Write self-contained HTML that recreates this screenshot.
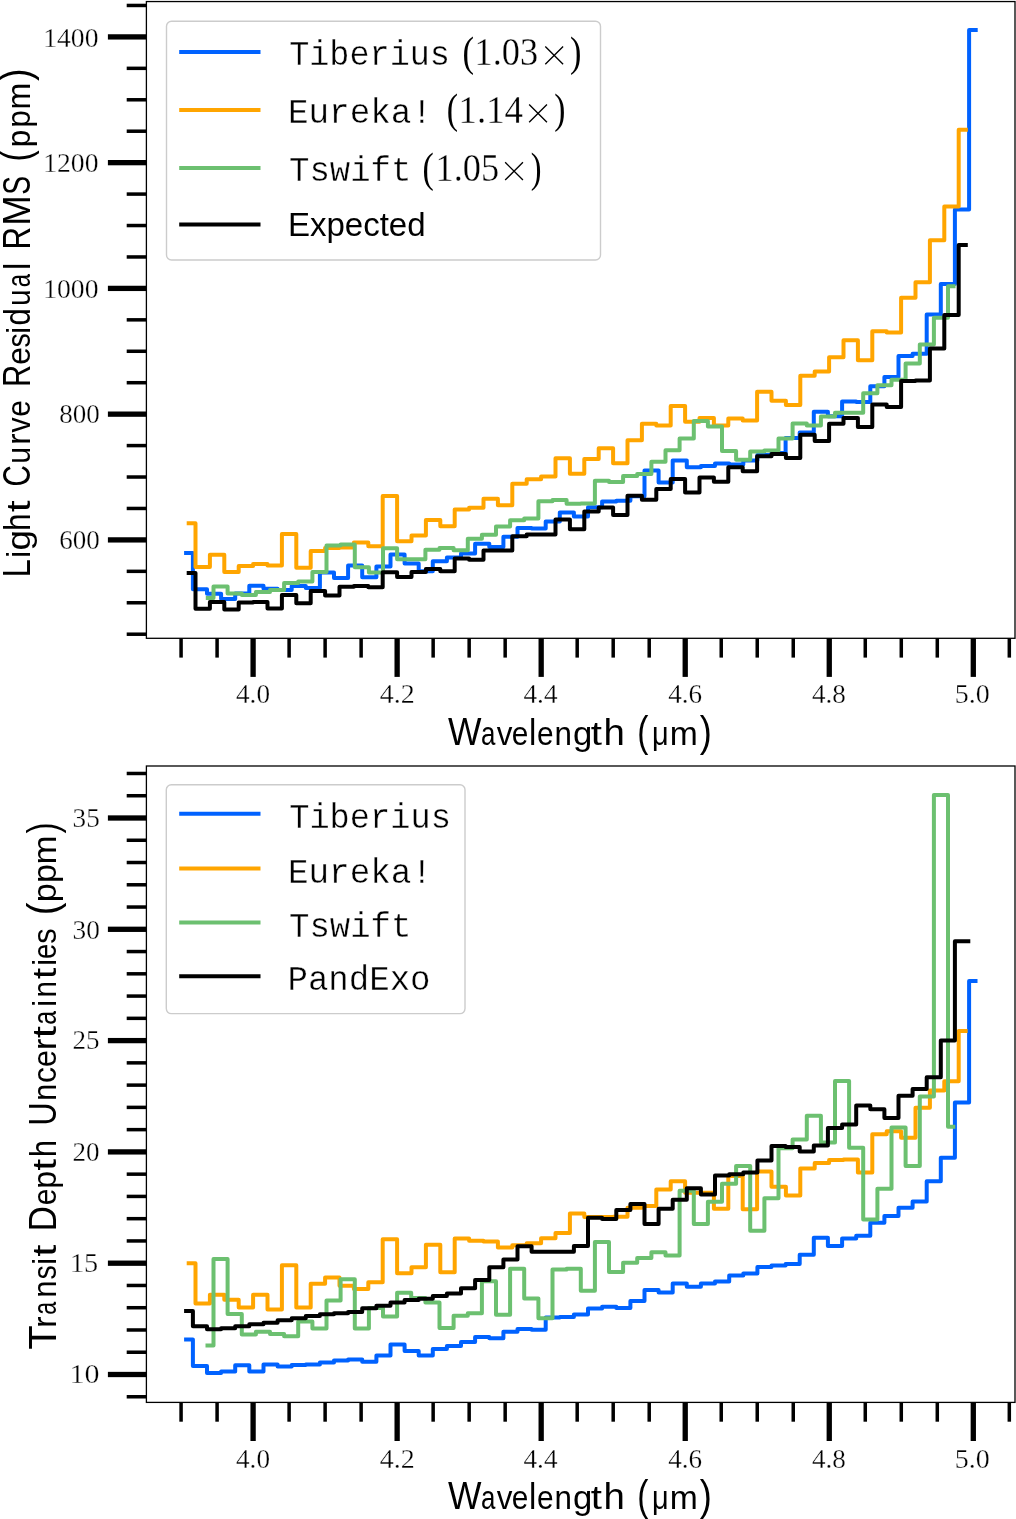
<!DOCTYPE html><html><head><meta charset="utf-8"><style>html,body{margin:0;padding:0;background:#fff;overflow:hidden;}text{-webkit-font-smoothing:antialiased;}svg{will-change:transform;}svg{display:block;}.tl{font-family:"Liberation Serif",serif;font-size:28px;fill:#000;stroke:#fff;stroke-width:0.3px;}.al{font-family:"Liberation Sans",sans-serif;font-size:35.5px;fill:#000;}.lm{font-family:"Liberation Mono",monospace;font-size:34.5px;fill:#000;stroke:#fff;stroke-width:0.35px;}.ls{font-family:"Liberation Serif",serif;font-size:39px;fill:#000;stroke:#fff;stroke-width:0.3px;}.lsans{font-family:"Liberation Sans",sans-serif;font-size:34px;fill:#000;}.lab text{font-family:"Liberation Sans",sans-serif;font-size:33px;fill:#000;}.ser{font-family:"Liberation Serif",serif;font-size:39px;fill:#000;}</style></head><body>
<svg width="1016" height="1519" viewBox="0 0 1016 1519">
<rect width="1016" height="1519" fill="#fff"/>
<g fill="#000">
<rect x="179.33" y="638.30" width="3.5" height="19.3"/>
<rect x="215.34" y="638.30" width="3.5" height="19.3"/>
<rect x="287.36" y="638.30" width="3.5" height="19.3"/>
<rect x="323.37" y="638.30" width="3.5" height="19.3"/>
<rect x="359.38" y="638.30" width="3.5" height="19.3"/>
<rect x="431.40" y="638.30" width="3.5" height="19.3"/>
<rect x="467.41" y="638.30" width="3.5" height="19.3"/>
<rect x="503.42" y="638.30" width="3.5" height="19.3"/>
<rect x="575.44" y="638.30" width="3.5" height="19.3"/>
<rect x="611.45" y="638.30" width="3.5" height="19.3"/>
<rect x="647.46" y="638.30" width="3.5" height="19.3"/>
<rect x="719.48" y="638.30" width="3.5" height="19.3"/>
<rect x="755.49" y="638.30" width="3.5" height="19.3"/>
<rect x="791.50" y="638.30" width="3.5" height="19.3"/>
<rect x="863.52" y="638.30" width="3.5" height="19.3"/>
<rect x="899.53" y="638.30" width="3.5" height="19.3"/>
<rect x="935.54" y="638.30" width="3.5" height="19.3"/>
<rect x="1007.56" y="638.30" width="3.5" height="19.3"/>
<rect x="250.45" y="638.30" width="5.3" height="38.6"/>
<text x="236.00" y="703.00" class="tl" textLength="33.98" lengthAdjust="spacingAndGlyphs">4.0</text>
<rect x="394.49" y="638.30" width="5.3" height="38.6"/>
<text x="379.76" y="703.00" class="tl" textLength="34.97" lengthAdjust="spacingAndGlyphs">4.2</text>
<rect x="538.53" y="638.30" width="5.3" height="38.6"/>
<text x="523.52" y="703.00" class="tl" textLength="33.96" lengthAdjust="spacingAndGlyphs">4.4</text>
<rect x="682.57" y="638.30" width="5.3" height="38.6"/>
<text x="668.28" y="703.00" class="tl" textLength="33.86" lengthAdjust="spacingAndGlyphs">4.6</text>
<rect x="826.61" y="638.30" width="5.3" height="38.6"/>
<text x="812.04" y="703.00" class="tl" textLength="33.88" lengthAdjust="spacingAndGlyphs">4.8</text>
<rect x="970.65" y="638.30" width="5.3" height="38.6"/>
<text x="954.80" y="703.00" class="tl" textLength="34.96" lengthAdjust="spacingAndGlyphs">5.0</text>
<rect x="126.70" y="632.46" width="19.7" height="3.5"/>
<rect x="126.70" y="601.02" width="19.7" height="3.5"/>
<rect x="126.70" y="569.59" width="19.7" height="3.5"/>
<rect x="126.70" y="506.71" width="19.7" height="3.5"/>
<rect x="126.70" y="475.27" width="19.7" height="3.5"/>
<rect x="126.70" y="443.84" width="19.7" height="3.5"/>
<rect x="126.70" y="380.96" width="19.7" height="3.5"/>
<rect x="126.70" y="349.52" width="19.7" height="3.5"/>
<rect x="126.70" y="318.09" width="19.7" height="3.5"/>
<rect x="126.70" y="255.21" width="19.7" height="3.5"/>
<rect x="126.70" y="223.78" width="19.7" height="3.5"/>
<rect x="126.70" y="192.34" width="19.7" height="3.5"/>
<rect x="126.70" y="129.46" width="19.7" height="3.5"/>
<rect x="126.70" y="98.03" width="19.7" height="3.5"/>
<rect x="126.70" y="66.59" width="19.7" height="3.5"/>
<rect x="126.70" y="3.71" width="19.7" height="3.5"/>
<rect x="107.90" y="34.25" width="38.5" height="5.3"/>
<text x="43.20" y="46.57" class="tl" textLength="55.25" lengthAdjust="spacingAndGlyphs">1400</text>
<rect x="107.90" y="160.00" width="38.5" height="5.3"/>
<text x="43.20" y="172.27" class="tl" textLength="55.25" lengthAdjust="spacingAndGlyphs">1200</text>
<rect x="107.90" y="285.75" width="38.5" height="5.3"/>
<text x="43.20" y="297.62" class="tl" textLength="55.25" lengthAdjust="spacingAndGlyphs">1000</text>
<rect x="107.90" y="411.50" width="38.5" height="5.3"/>
<text x="59.20" y="423.12" class="tl" textLength="40.53" lengthAdjust="spacingAndGlyphs">800</text>
<rect x="107.90" y="537.25" width="38.5" height="5.3"/>
<text x="59.20" y="548.97" class="tl" textLength="40.53" lengthAdjust="spacingAndGlyphs">600</text>
<rect x="146.40" y="1.55" width="868.60" height="636.75" fill="none" stroke="#000" stroke-width="1.3"/>
</g>
<g fill="none" stroke-width="4.0" stroke-linejoin="round" stroke-linecap="square">
<path d="M186.1 553.0H192.9V589.2H207.0V593.7H221.1V598.9H235.2V593.5H249.3V585.8H263.5V588.7H277.6V590.0H291.7V586.1H305.8V587.9H319.9V572.6H334.0V577.9H348.1V565.5H362.2V577.3H376.4V566.6H390.5V554.4H404.6V563.5H418.7V571.3H432.8V561.3H446.9V557.4H461.0V553.6H475.1V543.8H489.3V546.9H503.4V536.8H517.5V528.0H531.6V528.6H545.7V521.5H559.8V512.6H573.9V516.5H588.0V507.3H602.1V501.5H616.3V500.8H630.4V496.3H644.5V470.5H658.6V482.5H672.7V460.6H686.8V467.2H700.9V466.0H715.0V463.4H729.2V464.5H743.3V460.4H757.4V455.0H771.5V453.0H785.6V438.0H799.7V432.5H813.8V411.8H827.9V416.3H842.1V401.6H856.2V402.0H870.3V386.2H884.4V376.9H898.5V356.0H912.6V353.7H926.7V314.5H940.8V284.0H954.9V209.4H969.1V29.9H975.7" stroke="#0062ff"/>
<path d="M188.7 523.3H195.5V566.9H209.9V554.8H224.3V572.0H238.7V565.9H253.1V564.1H267.5V565.6H281.9V533.9H296.3V567.8H310.7V550.9H325.1V548.0H339.5V547.4H353.9V542.5H368.3V546.2H382.7V495.9H397.1V541.2H411.5V535.5H425.9V519.9H440.3V526.3H454.7V509.5H469.1V507.8H483.5V498.7H497.9V505.2H512.3V483.7H526.7V479.3H541.1V476.6H555.5V458.3H569.9V473.7H584.3V459.1H598.7V448.3H613.1V463.2H627.5V440.2H641.9V423.7H656.3V425.4H670.7V405.9H685.1V421.7H699.5V417.9H713.9V425.5H728.3V418.5H742.7V420.5H757.1V391.7H771.5V400.7H785.9V404.9H800.3V375.8H814.7V371.6H829.1V357.3H843.5V340.2H857.9V360.2H872.3V331.3H886.7V332.4H901.1V297.8H915.5V282.3H929.9V240.2H944.3V206.4H958.7V129.8H965.8" stroke="#ffa500"/>
<path d="M207.8 597.9H213.5V586.6H227.6V593.5H241.8V595.1H255.9V591.9H270.0V590.0H284.1V583.0H298.2V581.5H312.4V572.0H326.5V545.4H340.6V544.6H354.8V567.2H368.9V572.6H383.0V548.2H397.1V559.3H411.2V559.3H425.4V549.7H439.5V547.9H453.6V550.2H467.8V538.8H481.9V534.7H496.0V526.4H510.1V520.3H524.2V518.5H538.4V501.2H552.5V500.0H566.6V503.8H580.8V503.6H594.9V480.8H609.0V481.9H623.1V475.9H637.2V473.9H651.4V461.8H665.5V450.2H679.6V438.4H693.8V420.9H707.9V426.5H722.0V450.9H736.1V459.8H750.2V451.5H764.4V450.4H778.5V438.5H792.6V423.6H806.8V425.6H820.9V416.5H835.0V412.8H849.1V412.8H863.2V393.3H877.4V385.3H891.5V379.8H905.6V363.5H919.8V344.5H933.9V317.8H948.0V286.3H953.5" stroke="#6cc070"/>
<path d="M188.7 573.0H195.5V608.7H209.9V602.0H224.3V609.4H238.7V602.5H253.1V602.0H267.5V608.4H281.9V595.0H296.3V603.3H310.7V590.9H325.1V595.6H339.5V586.7H353.9V585.9H368.3V587.3H382.7V572.3H397.1V577.0H411.5V572.1H425.9V568.9H440.3V571.3H454.7V558.5H469.1V559.8H483.5V550.4H497.9V550.4H512.3V536.3H526.7V534.5H541.1V534.5H555.5V519.4H569.9V529.2H584.3V511.4H598.7V507.5H613.1V515.1H627.5V495.8H641.9V499.8H656.3V488.9H670.7V478.9H685.1V492.6H699.5V477.6H713.9V481.7H728.3V467.3H742.7V471.3H757.1V456.3H771.5V453.9H785.9V458.0H800.3V434.8H814.7V440.9H829.1V423.8H843.5V417.9H857.9V427.0H872.3V404.5H886.7V406.9H901.1V381.0H915.5V380.5H929.9V348.6H944.3V315.0H958.7V245.0H965.8" stroke="#000000"/>
</g>
<rect x="166.5" y="21.3" width="434" height="238.7" rx="5" fill="#fff" fill-opacity="0.8" stroke="#cccccc" stroke-width="1.4"/>
<line x1="179.2" y1="52.0" x2="260.5" y2="52.0" stroke="#0062ff" stroke-width="4.0"/>
<line x1="179.2" y1="110.0" x2="260.5" y2="110.0" stroke="#ffa500" stroke-width="4.0"/>
<line x1="179.2" y1="168.0" x2="260.5" y2="168.0" stroke="#6cc070" stroke-width="4.0"/>
<line x1="179.2" y1="224.4" x2="260.5" y2="224.4" stroke="#000000" stroke-width="4.0"/>
<text x="289.20" y="64.60" class="lm" textLength="160.74" lengthAdjust="spacingAndGlyphs">Tiberius</text>
<text x="287.90" y="122.80" class="lm" textLength="144.19" lengthAdjust="spacingAndGlyphs">Eureka!</text>
<text x="289.00" y="181.10" class="lm" textLength="122.41" lengthAdjust="spacingAndGlyphs">Tswift</text>
<text x="474.50" y="65.20" class="ls" textLength="63.55" lengthAdjust="spacingAndGlyphs">1.03</text>
<text class="ser" transform="translate(468.45,65.64) scale(0.889,1.103)" x="-6.72" y="0">(</text>
<text class="ser" transform="translate(575.60,65.64) scale(0.879,1.103)" x="-6.27" y="0">)</text>
<path d="M545.30 46.40L563.10 64.20M545.30 64.20L563.10 46.40" stroke="#000" stroke-width="1.35" fill="none"/>
<text x="458.50" y="123.00" class="ls" textLength="64.55" lengthAdjust="spacingAndGlyphs">1.14</text>
<text class="ser" transform="translate(452.65,123.44) scale(0.869,1.103)" x="-6.72" y="0">(</text>
<text class="ser" transform="translate(559.70,123.44) scale(0.859,1.103)" x="-6.27" y="0">)</text>
<path d="M529.15 104.45L546.95 122.25M529.15 122.25L546.95 104.45" stroke="#000" stroke-width="1.35" fill="none"/>
<text x="435.50" y="181.30" class="ls" textLength="63.55" lengthAdjust="spacingAndGlyphs">1.05</text>
<text class="ser" transform="translate(428.25,181.74) scale(0.869,1.103)" x="-6.72" y="0">(</text>
<text class="ser" transform="translate(535.85,181.74) scale(0.829,1.103)" x="-6.27" y="0">)</text>
<path d="M505.15 162.25L522.95 180.05M505.15 180.05L522.95 162.25" stroke="#000" stroke-width="1.35" fill="none"/>
<text x="287.90" y="236.20" class="lsans" textLength="137.70" lengthAdjust="spacingAndGlyphs">Expected</text>
<g class="lab"><text transform="translate(464.70,744.80) scale(1.075,1.172)" x="-15.59" y="0">W</text><text transform="translate(488.75,744.80) scale(0.785,0.987)" x="-9.88" y="0">a</text><text transform="translate(504.55,744.80) scale(0.952,0.987)" x="-8.25" y="0">v</text><text transform="translate(520.10,744.80) scale(0.904,0.987)" x="-9.14" y="0">e</text><text transform="translate(532.65,744.80) scale(1.000,1.112)" x="-3.67" y="0">l</text><text transform="translate(545.20,744.80) scale(0.904,0.987)" x="-9.14" y="0">e</text><text transform="translate(563.25,744.80) scale(0.949,0.987)" x="-9.20" y="0">n</text><text transform="translate(582.20,744.80) scale(1.051,0.987)" x="-8.81" y="0">g</text><text transform="translate(596.55,744.80) scale(1.222,1.000)" x="-4.71" y="0">t</text><text transform="translate(614.30,744.80) scale(1.164,1.112)" x="-9.25" y="0">h</text><text transform="translate(643.85,745.63) scale(1.017,1.269)" x="-6.42" y="0">(</text><text transform="translate(660.20,744.80) scale(0.877,0.987)" x="-9.41" y="0">μ</text><text transform="translate(683.80,744.80) scale(1.021,0.987)" x="-13.75" y="0">m</text><text transform="translate(704.70,745.63) scale(1.097,1.269)" x="-4.57" y="0">)</text></g>
<g class="lab"><text transform="translate(29.65,567.50) rotate(-90) scale(1.003,1.172)" x="-9.98" y="0">L</text><text transform="translate(29.65,554.45) rotate(-90) scale(1.000,1.000)" x="-3.66" y="0">i</text><text transform="translate(29.65,540.70) rotate(-90) scale(1.119,0.987)" x="-8.81" y="0">g</text><text transform="translate(29.65,522.15) rotate(-90) scale(0.955,1.112)" x="-9.25" y="0">h</text><text transform="translate(29.65,506.15) rotate(-90) scale(1.293,1.000)" x="-4.71" y="0">t</text><text transform="translate(29.65,475.65) rotate(-90) scale(0.895,1.154)" x="-12.13" y="0">C</text><text transform="translate(29.65,455.50) rotate(-90) scale(0.913,0.987)" x="-9.15" y="0">u</text><text transform="translate(29.65,438.45) rotate(-90) scale(1.055,0.987)" x="-6.32" y="0">r</text><text transform="translate(29.65,425.00) rotate(-90) scale(0.922,0.987)" x="-8.25" y="0">v</text><text transform="translate(29.65,408.60) rotate(-90) scale(0.904,0.987)" x="-9.14" y="0">e</text><text transform="translate(29.65,375.45) rotate(-90) scale(0.934,1.172)" x="-12.50" y="0">R</text><text transform="translate(29.65,355.90) rotate(-90) scale(0.956,0.987)" x="-9.14" y="0">e</text><text transform="translate(29.65,340.50) rotate(-90) scale(0.862,0.987)" x="-8.11" y="0">s</text><text transform="translate(29.65,330.35) rotate(-90) scale(1.000,1.000)" x="-3.66" y="0">i</text><text transform="translate(29.65,317.30) rotate(-90) scale(0.943,1.112)" x="-8.81" y="0">d</text><text transform="translate(29.65,297.65) rotate(-90) scale(0.906,0.987)" x="-9.15" y="0">u</text><text transform="translate(29.65,280.15) rotate(-90) scale(0.726,0.987)" x="-9.88" y="0">a</text><text transform="translate(29.65,266.45) rotate(-90) scale(1.000,1.112)" x="-3.67" y="0">l</text><text transform="translate(29.65,237.60) rotate(-90) scale(0.949,1.172)" x="-12.50" y="0">R</text><text transform="translate(29.65,210.45) rotate(-90) scale(1.110,1.172)" x="-13.74" y="0">M</text><text transform="translate(29.65,185.25) rotate(-90) scale(0.858,1.154)" x="-11.00" y="0">S</text><text transform="translate(30.48,155.00) rotate(-90) scale(1.029,1.269)" x="-6.42" y="0">(</text><text transform="translate(29.65,138.20) rotate(-90) scale(0.957,0.987)" x="-9.55" y="0">p</text><text transform="translate(29.65,118.65) rotate(-90) scale(0.964,0.987)" x="-9.55" y="0">p</text><text transform="translate(29.65,96.15) rotate(-90) scale(0.973,0.987)" x="-13.75" y="0">m</text><text transform="translate(30.48,75.70) rotate(-90) scale(1.143,1.269)" x="-4.57" y="0">)</text></g>
<g fill="#000">
<rect x="179.33" y="1402.40" width="3.5" height="19.3"/>
<rect x="215.34" y="1402.40" width="3.5" height="19.3"/>
<rect x="287.36" y="1402.40" width="3.5" height="19.3"/>
<rect x="323.37" y="1402.40" width="3.5" height="19.3"/>
<rect x="359.38" y="1402.40" width="3.5" height="19.3"/>
<rect x="431.40" y="1402.40" width="3.5" height="19.3"/>
<rect x="467.41" y="1402.40" width="3.5" height="19.3"/>
<rect x="503.42" y="1402.40" width="3.5" height="19.3"/>
<rect x="575.44" y="1402.40" width="3.5" height="19.3"/>
<rect x="611.45" y="1402.40" width="3.5" height="19.3"/>
<rect x="647.46" y="1402.40" width="3.5" height="19.3"/>
<rect x="719.48" y="1402.40" width="3.5" height="19.3"/>
<rect x="755.49" y="1402.40" width="3.5" height="19.3"/>
<rect x="791.50" y="1402.40" width="3.5" height="19.3"/>
<rect x="863.52" y="1402.40" width="3.5" height="19.3"/>
<rect x="899.53" y="1402.40" width="3.5" height="19.3"/>
<rect x="935.54" y="1402.40" width="3.5" height="19.3"/>
<rect x="1007.56" y="1402.40" width="3.5" height="19.3"/>
<rect x="250.45" y="1402.40" width="5.3" height="38.6"/>
<text x="236.00" y="1467.50" class="tl" textLength="33.98" lengthAdjust="spacingAndGlyphs">4.0</text>
<rect x="394.49" y="1402.40" width="5.3" height="38.6"/>
<text x="379.76" y="1467.50" class="tl" textLength="34.97" lengthAdjust="spacingAndGlyphs">4.2</text>
<rect x="538.53" y="1402.40" width="5.3" height="38.6"/>
<text x="523.52" y="1467.50" class="tl" textLength="33.96" lengthAdjust="spacingAndGlyphs">4.4</text>
<rect x="682.57" y="1402.40" width="5.3" height="38.6"/>
<text x="668.28" y="1467.50" class="tl" textLength="33.86" lengthAdjust="spacingAndGlyphs">4.6</text>
<rect x="826.61" y="1402.40" width="5.3" height="38.6"/>
<text x="812.04" y="1467.50" class="tl" textLength="33.88" lengthAdjust="spacingAndGlyphs">4.8</text>
<rect x="970.65" y="1402.40" width="5.3" height="38.6"/>
<text x="954.80" y="1467.50" class="tl" textLength="34.96" lengthAdjust="spacingAndGlyphs">5.0</text>
<rect x="126.70" y="1395.01" width="19.7" height="3.5"/>
<rect x="126.70" y="1350.49" width="19.7" height="3.5"/>
<rect x="126.70" y="1328.23" width="19.7" height="3.5"/>
<rect x="126.70" y="1305.97" width="19.7" height="3.5"/>
<rect x="126.70" y="1283.71" width="19.7" height="3.5"/>
<rect x="126.70" y="1239.19" width="19.7" height="3.5"/>
<rect x="126.70" y="1216.93" width="19.7" height="3.5"/>
<rect x="126.70" y="1194.67" width="19.7" height="3.5"/>
<rect x="126.70" y="1172.41" width="19.7" height="3.5"/>
<rect x="126.70" y="1127.89" width="19.7" height="3.5"/>
<rect x="126.70" y="1105.63" width="19.7" height="3.5"/>
<rect x="126.70" y="1083.37" width="19.7" height="3.5"/>
<rect x="126.70" y="1061.11" width="19.7" height="3.5"/>
<rect x="126.70" y="1016.59" width="19.7" height="3.5"/>
<rect x="126.70" y="994.33" width="19.7" height="3.5"/>
<rect x="126.70" y="972.07" width="19.7" height="3.5"/>
<rect x="126.70" y="949.81" width="19.7" height="3.5"/>
<rect x="126.70" y="905.29" width="19.7" height="3.5"/>
<rect x="126.70" y="883.03" width="19.7" height="3.5"/>
<rect x="126.70" y="860.77" width="19.7" height="3.5"/>
<rect x="126.70" y="838.51" width="19.7" height="3.5"/>
<rect x="126.70" y="793.99" width="19.7" height="3.5"/>
<rect x="126.70" y="771.73" width="19.7" height="3.5"/>
<rect x="107.90" y="1371.85" width="38.5" height="5.3"/>
<text x="69.40" y="1383.42" class="tl" textLength="29.98" lengthAdjust="spacingAndGlyphs">10</text>
<rect x="107.90" y="1260.55" width="38.5" height="5.3"/>
<text x="70.00" y="1272.42" class="tl" textLength="28.23" lengthAdjust="spacingAndGlyphs">15</text>
<rect x="107.90" y="1149.25" width="38.5" height="5.3"/>
<text x="72.60" y="1160.77" class="tl" textLength="27.05" lengthAdjust="spacingAndGlyphs">20</text>
<rect x="107.90" y="1037.95" width="38.5" height="5.3"/>
<text x="72.60" y="1049.47" class="tl" textLength="27.05" lengthAdjust="spacingAndGlyphs">25</text>
<rect x="107.90" y="926.65" width="38.5" height="5.3"/>
<text x="72.60" y="938.62" class="tl" textLength="27.33" lengthAdjust="spacingAndGlyphs">30</text>
<rect x="107.90" y="815.35" width="38.5" height="5.3"/>
<text x="72.60" y="826.87" class="tl" textLength="27.16" lengthAdjust="spacingAndGlyphs">35</text>
<rect x="146.40" y="766.00" width="868.60" height="636.40" fill="none" stroke="#000" stroke-width="1.3"/>
</g>
<g fill="none" stroke-width="4.0" stroke-linejoin="round" stroke-linecap="square">
<path d="M186.1 1339.6H192.9V1366.1H207.0V1373.0H221.1V1371.6H235.2V1365.2H249.3V1371.6H263.5V1364.6H277.6V1366.5H291.7V1365.0H305.8V1364.4H319.9V1362.4H334.0V1360.5H348.1V1359.5H362.2V1361.8H376.4V1355.4H390.5V1344.6H404.6V1351.0H418.7V1355.5H432.8V1349.1H446.9V1345.9H461.0V1342.0H475.1V1336.9H489.3V1338.2H503.4V1331.7H517.5V1329.0H531.6V1329.7H545.7V1317.6H559.8V1317.0H573.9V1314.4H588.0V1308.6H602.1V1306.7H616.3V1308.0H630.4V1300.9H644.5V1290.0H658.6V1292.5H672.7V1283.6H686.8V1286.7H700.9V1283.6H715.0V1281.6H729.2V1275.4H743.3V1273.5H757.4V1267.0H771.5V1265.6H785.6V1264.1H799.7V1254.7H813.8V1237.8H827.9V1246.0H842.1V1238.5H856.2V1235.7H870.3V1222.8H884.4V1216.0H898.5V1207.7H912.6V1201.6H926.7V1181.2H940.8V1157.7H954.9V1102.5H969.1V981.0H975.5" stroke="#0062ff"/>
<path d="M188.7 1263.3H195.5V1303.6H209.9V1294.8H224.3V1299.7H238.7V1307.6H253.1V1294.8H267.5V1309.4H281.9V1265.2H296.3V1307.4H310.7V1283.7H325.1V1277.6H339.5V1285.7H353.9V1288.9H368.3V1282.2H382.7V1239.3H397.1V1273.2H411.5V1267.2H425.9V1244.8H440.3V1272.3H454.7V1238.4H469.1V1240.7H483.5V1241.5H497.9V1247.5H512.3V1245.3H526.7V1243.3H541.1V1238.2H555.5V1233.1H569.9V1213.5H584.3V1217.1H598.7V1217.0H613.1V1216.8H627.5V1207.8H641.9V1206.1H656.3V1189.5H670.7V1181.2H685.1V1192.7H699.5V1192.7H713.9V1208.7H728.3V1176.0H742.7V1209.2H757.1V1171.5H771.5V1186.7H785.9V1195.4H800.3V1168.6H814.7V1163.1H829.1V1159.9H843.5V1159.4H857.9V1172.5H872.3V1134.3H886.7V1131.2H901.1V1137.7H915.5V1107.8H929.9V1090.4H944.3V1081.3H958.7V1030.9H965.6" stroke="#ffa500"/>
<path d="M207.5 1345.5H213.5V1258.9H227.6V1314.0H241.8V1334.6H255.9V1331.7H270.0V1334.0H284.1V1336.2H298.2V1321.5H312.4V1328.5H326.5V1300.4H340.6V1279.3H354.8V1328.5H368.9V1308.1H383.0V1316.4H397.1V1292.8H411.2V1297.9H425.4V1302.4H439.5V1328.0H453.6V1315.8H467.8V1313.2H481.9V1281.3H496.0V1314.7H510.1V1268.7H524.2V1298.4H538.4V1318.2H552.5V1269.6H566.6V1268.7H580.8V1290.7H594.9V1242.1H609.0V1272.1H623.1V1262.8H637.2V1258.0H651.4V1252.2H665.5V1255.4H679.6V1190.8H693.8V1224.0H707.9V1201.7H722.0V1183.7H736.1V1166.0H750.2V1230.8H764.4V1198.2H778.5V1148.3H792.6V1139.6H806.8V1115.7H820.9V1142.5H835.0V1081.0H849.1V1147.7H863.2V1219.5H877.4V1188.7H891.5V1127.4H905.6V1166.0H919.8V1096.4H933.9V795.1H948.0V1126.7H953.3" stroke="#6cc070"/>
<path d="M186.1 1311.0H192.9V1326.3H207.0V1329.2H221.1V1328.2H235.2V1326.3H249.3V1324.3H263.5V1322.8H277.6V1320.3H291.7V1318.3H305.8V1316.0H319.9V1314.2H334.0V1313.2H348.1V1312.1H362.2V1308.3H376.4V1305.8H390.5V1302.5H404.6V1300.1H418.7V1298.8H432.8V1296.0H446.9V1293.4H461.0V1288.3H475.1V1280.0H489.3V1267.2H503.4V1259.4H517.5V1246.3H531.6V1251.7H545.7V1251.7H559.8V1251.7H573.9V1245.9H588.0V1217.7H602.1V1219.0H616.3V1210.1H630.4V1203.9H644.5V1224.0H658.6V1208.7H672.7V1199.7H686.8V1188.2H700.9V1194.6H715.0V1175.4H729.2V1174.2H743.3V1172.5H757.4V1160.6H771.5V1146.1H785.6V1147.1H799.7V1151.5H813.8V1145.4H827.9V1128.0H842.1V1124.4H856.2V1105.5H870.3V1109.3H884.4V1118.1H898.5V1095.7H912.6V1088.9H926.7V1077.2H940.8V1040.5H954.9V941.3H968.3" stroke="#000000"/>
</g>
<rect x="166.3" y="784.8" width="298.7" height="228.8" rx="5" fill="#fff" fill-opacity="0.8" stroke="#cccccc" stroke-width="1.4"/>
<line x1="179.2" y1="813.8" x2="260.5" y2="813.8" stroke="#0062ff" stroke-width="4.0"/>
<line x1="179.2" y1="868.4" x2="260.5" y2="868.4" stroke="#ffa500" stroke-width="4.0"/>
<line x1="179.2" y1="922.6" x2="260.5" y2="922.6" stroke="#6cc070" stroke-width="4.0"/>
<line x1="179.2" y1="976.2" x2="260.5" y2="976.2" stroke="#000000" stroke-width="4.0"/>
<text x="289.20" y="828.10" class="lm" textLength="161.74" lengthAdjust="spacingAndGlyphs">Tiberius</text>
<text x="287.90" y="882.50" class="lm" textLength="144.19" lengthAdjust="spacingAndGlyphs">Eureka!</text>
<text x="289.00" y="936.70" class="lm" textLength="122.41" lengthAdjust="spacingAndGlyphs">Tswift</text>
<text x="287.50" y="990.40" class="lm" textLength="143.04" lengthAdjust="spacingAndGlyphs">PandExo</text>
<g class="lab"><text transform="translate(464.70,1509.10) scale(1.075,1.172)" x="-15.59" y="0">W</text><text transform="translate(488.75,1509.10) scale(0.785,0.987)" x="-9.88" y="0">a</text><text transform="translate(504.55,1509.10) scale(0.952,0.987)" x="-8.25" y="0">v</text><text transform="translate(520.10,1509.10) scale(0.904,0.987)" x="-9.14" y="0">e</text><text transform="translate(532.65,1509.10) scale(1.000,1.112)" x="-3.67" y="0">l</text><text transform="translate(545.20,1509.10) scale(0.904,0.987)" x="-9.14" y="0">e</text><text transform="translate(563.25,1509.10) scale(0.949,0.987)" x="-9.20" y="0">n</text><text transform="translate(582.20,1509.10) scale(1.051,0.987)" x="-8.81" y="0">g</text><text transform="translate(596.55,1509.10) scale(1.222,1.000)" x="-4.71" y="0">t</text><text transform="translate(614.30,1509.10) scale(1.164,1.112)" x="-9.25" y="0">h</text><text transform="translate(643.85,1509.93) scale(1.017,1.269)" x="-6.42" y="0">(</text><text transform="translate(660.20,1509.10) scale(0.877,0.987)" x="-9.41" y="0">μ</text><text transform="translate(683.80,1509.10) scale(1.021,0.987)" x="-13.75" y="0">m</text><text transform="translate(704.70,1509.93) scale(1.097,1.269)" x="-4.57" y="0">)</text></g>
<g class="lab"><text transform="translate(56.20,1337.60) rotate(-90) scale(1.211,1.172)" x="-10.07" y="0">T</text><text transform="translate(56.20,1321.35) rotate(-90) scale(1.055,0.987)" x="-6.32" y="0">r</text><text transform="translate(56.20,1307.85) rotate(-90) scale(0.702,0.987)" x="-9.88" y="0">a</text><text transform="translate(56.20,1289.10) rotate(-90) scale(0.942,0.987)" x="-9.20" y="0">n</text><text transform="translate(56.20,1272.55) rotate(-90) scale(0.869,0.987)" x="-8.11" y="0">s</text><text transform="translate(56.20,1261.40) rotate(-90) scale(1.000,1.000)" x="-3.66" y="0">i</text><text transform="translate(56.20,1250.40) rotate(-90) scale(1.329,1.000)" x="-4.71" y="0">t</text><text transform="translate(56.20,1218.20) rotate(-90) scale(1.054,1.172)" x="-12.48" y="0">D</text><text transform="translate(56.20,1197.05) rotate(-90) scale(0.911,0.987)" x="-9.14" y="0">e</text><text transform="translate(56.20,1179.40) rotate(-90) scale(0.970,0.987)" x="-9.55" y="0">p</text><text transform="translate(56.20,1164.65) rotate(-90) scale(1.293,1.000)" x="-4.71" y="0">t</text><text transform="translate(56.20,1148.40) rotate(-90) scale(0.919,1.112)" x="-9.25" y="0">h</text><text transform="translate(56.20,1113.95) rotate(-90) scale(0.987,1.172)" x="-11.92" y="0">U</text><text transform="translate(56.20,1092.35) rotate(-90) scale(0.920,0.987)" x="-9.20" y="0">n</text><text transform="translate(56.20,1074.80) rotate(-90) scale(0.970,0.987)" x="-8.52" y="0">c</text><text transform="translate(56.20,1058.55) rotate(-90) scale(0.923,0.987)" x="-9.14" y="0">e</text><text transform="translate(56.20,1043.40) rotate(-90) scale(1.042,0.987)" x="-6.32" y="0">r</text><text transform="translate(56.20,1031.95) rotate(-90) scale(1.341,1.000)" x="-4.71" y="0">t</text><text transform="translate(56.20,1017.30) rotate(-90) scale(0.755,0.987)" x="-9.88" y="0">a</text><text transform="translate(56.20,1003.35) rotate(-90) scale(1.000,1.000)" x="-3.66" y="0">i</text><text transform="translate(56.20,989.30) rotate(-90) scale(0.899,0.987)" x="-9.20" y="0">n</text><text transform="translate(56.20,973.30) rotate(-90) scale(1.258,1.000)" x="-4.71" y="0">t</text><text transform="translate(56.20,962.40) rotate(-90) scale(1.000,1.000)" x="-3.66" y="0">i</text><text transform="translate(56.20,951.35) rotate(-90) scale(0.833,0.987)" x="-9.14" y="0">e</text><text transform="translate(56.20,936.25) rotate(-90) scale(0.938,0.987)" x="-8.11" y="0">s</text><text transform="translate(57.03,907.70) rotate(-90) scale(1.166,1.269)" x="-6.42" y="0">(</text><text transform="translate(56.20,892.30) rotate(-90) scale(1.038,0.987)" x="-9.55" y="0">p</text><text transform="translate(56.20,873.00) rotate(-90) scale(1.038,0.987)" x="-9.55" y="0">p</text><text transform="translate(56.20,849.90) rotate(-90) scale(1.055,0.987)" x="-13.75" y="0">m</text><text transform="translate(57.03,828.75) rotate(-90) scale(1.017,1.269)" x="-4.57" y="0">)</text></g>
</svg></body></html>
